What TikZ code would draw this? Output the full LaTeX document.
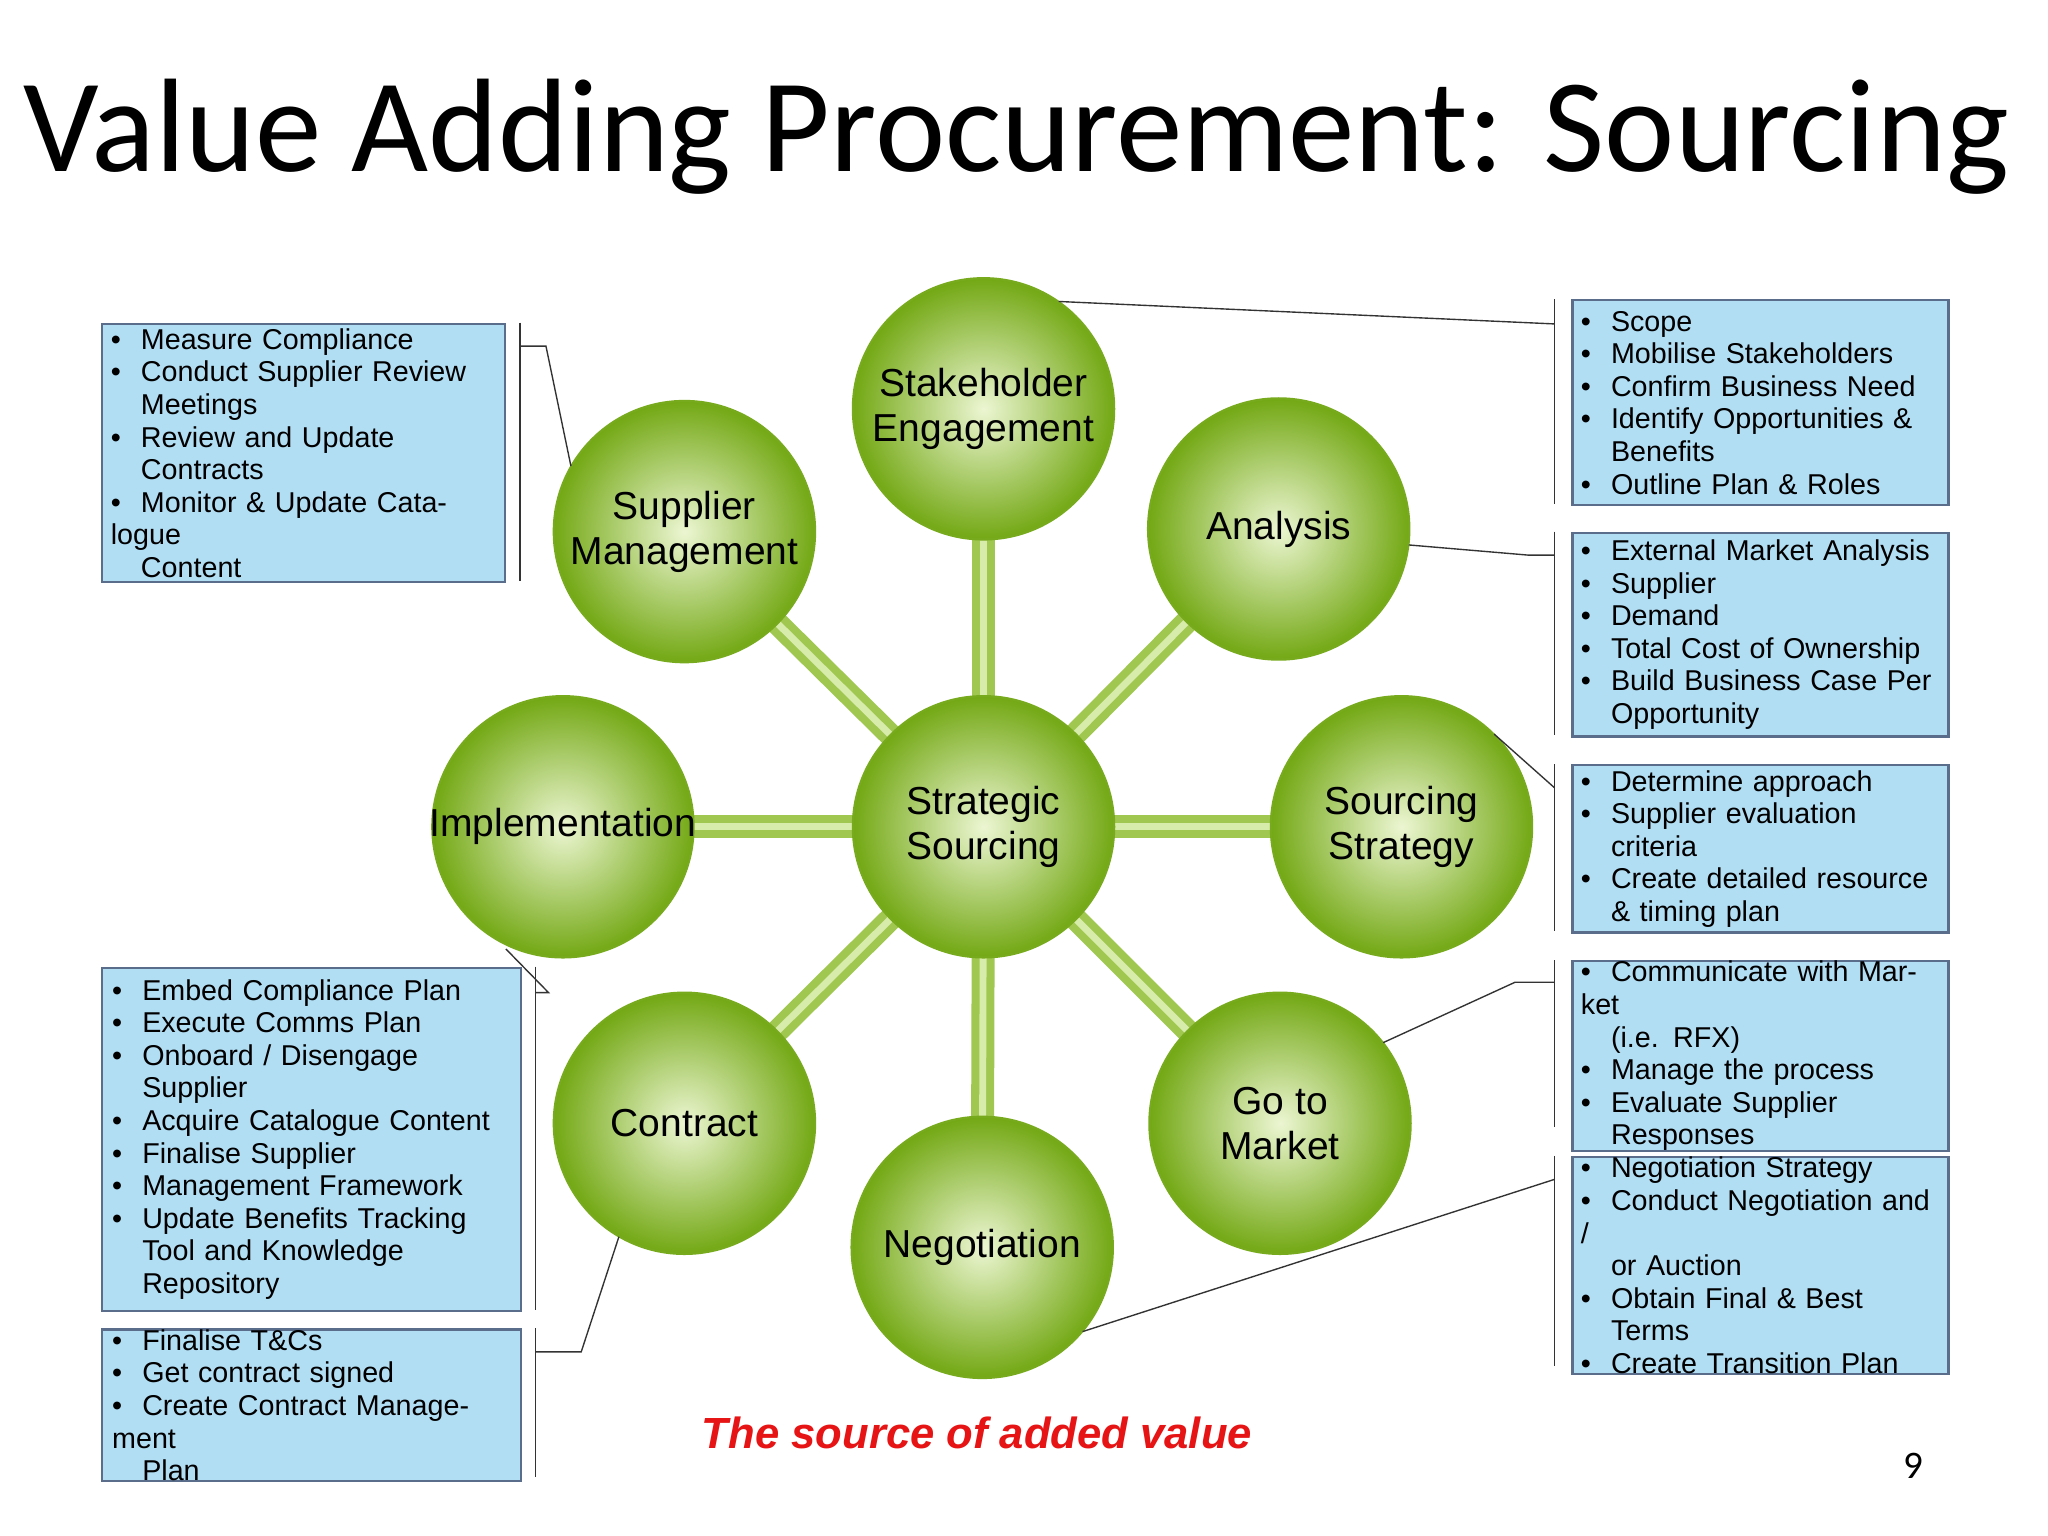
\documentclass[tikz,border=0pt]{standalone}
\usepackage{fontspec}
\setmainfont{Liberation Sans}
\newfontfamily\titlefont{Carlito}
\definecolor{boxblue}{RGB}{178,222,244}
\definecolor{boxedge}{RGB}{90,110,140}
\definecolor{ginner}{RGB}{236,246,210}
\definecolor{gouter}{RGB}{115,168,20}
\definecolor{gedge}{RGB}{120,170,30}
\definecolor{spoke}{RGB}{160,200,80}
\definecolor{spokein}{RGB}{215,235,170}
\definecolor{redtxt}{RGB}{230,20,20}
\newcommand{\bl}[1]{\makebox[1.05em][l]{•}#1}
\newcommand{\ct}[1]{\hspace{1.05em}#1}
\tikzset{
 infobox/.style={draw=boxedge,fill=boxblue,line width=1pt,anchor=north west,align=left,font=\fontsize{12.5}{14.2}\selectfont,inner sep=0pt},
 ball/.style={circle,minimum size=4cm,inner sep=0pt,align=center,font=\fontsize{17}{19.5}\selectfont},
 link/.style={draw=black!80,line width=0.6pt},
 brk/.style={draw=black!80,line width=0.6pt}
}
\begin{document}
\begin{tikzpicture}[x=0.02cm,y=-0.02cm]
\useasboundingbox[fill=white] (0,0) rectangle (1568,1176);
\node[font=\titlefont\fontsize{58}{60}\selectfont,anchor=center] (title) at (778,105) {Value Adding Procurement: Sourcing};
% coordinates
\coordinate (cS) at (753,633);
\foreach \n/\x/\y in {stk/753/313,ana/979/405,sst/1073/633,gtm/980/860,neg/752/955,con/524/860,imp/431/633,sup/524/407}{
 \coordinate (c\n) at (\x,\y);
 \draw[spoke,line width=10pt] (cS) -- (c\n);
 \draw[spokein,line width=3pt] (cS) -- (c\n);
}
\foreach \n in {S,stk,ana,sst,gtm,neg,con,imp,sup}{
 \shade[inner color=ginner,outer color=gouter] (c\n) circle (2cm);
 \draw[gedge,line width=1pt] (c\n) circle (2cm);
}
\node[ball] (nS) at (cS) {Strategic\\Sourcing};
\node[ball] (nstk) at (cstk) {Stakeholder\\Engagement};
\node[ball] (nana) at (cana) {Analysis};
\node[ball] (nsst) at (csst) {Sourcing\\Strategy};
\node[ball] (ngtm) at (cgtm) {Go to\\Market};
\node[ball] (nneg) at (cneg) {Negotiation};
\node[ball] (ncon) at (ccon) {Contract};
\node[ball] (nimp) at (cimp) {Implementation};
\node[ball] (nsup) at (csup) {Supplier\\Management};
% boxes
\node[infobox,minimum width=6.18cm,minimum height=3.96cm,text width=5.9cm] (L1) at (77,247) {\bl{Measure Compliance}\\\bl{Conduct Supplier Review}\\\ct{Meetings}\\\bl{Review and Update}\\\ct{Contracts}\\\bl{Monitor \& Update Catalogue}\\\ct{Content}};
\node[infobox,minimum width=6.42cm,minimum height=5.26cm,text width=6.1cm] (L2) at (77,740) {\bl{Embed Compliance Plan}\\\bl{Execute Comms Plan}\\\bl{Onboard / Disengage}\\\ct{Supplier}\\\bl{Acquire Catalogue Content}\\\bl{Finalise Supplier}\\\bl{Management Framework}\\\bl{Update Benefits Tracking}\\\ct{Tool and Knowledge}\\\ct{Repository}};
\node[infobox,minimum width=6.42cm,minimum height=2.28cm,text width=6.1cm] (L3) at (77,1017) {\bl{Finalise T\&Cs}\\\bl{Get contract signed}\\\bl{Create Contract Management}\\\ct{Plan}};
\node[infobox,minimum width=5.76cm,minimum height=3.14cm,text width=5.5cm] (R1) at (1203,229) {\bl{Scope}\\\bl{Mobilise Stakeholders}\\\bl{Confirm Business Need}\\\bl{Identify Opportunities \&}\\\ct{Benefits}\\\bl{Outline Plan \& Roles}};
\node[infobox,minimum width=5.76cm,minimum height=3.12cm,text width=5.5cm] (R2) at (1203,407) {\bl{External Market Analysis}\\\bl{Supplier}\\\bl{Demand}\\\bl{Total Cost of Ownership}\\\bl{Build Business Case Per}\\\ct{Opportunity}};
\node[infobox,minimum width=5.76cm,minimum height=2.56cm,text width=5.5cm] (R3) at (1203,585) {\bl{Determine approach}\\\bl{Supplier evaluation}\\\ct{criteria}\\\bl{Create detailed resource}\\\ct{\& timing plan}};
\node[infobox,minimum width=5.76cm,minimum height=2.56cm,text width=5.5cm] (R4) at (1203,735) {\bl{Communicate with Market}\\\ct{(i.e. RFX)}\\\bl{Manage the process}\\\bl{Evaluate Supplier}\\\ct{Responses}};
\node[infobox,minimum width=5.76cm,minimum height=3.22cm,text width=5.5cm] (R5) at (1203,885) {\bl{Negotiation Strategy}\\\bl{Conduct Negotiation and /}\\\ct{or Auction}\\\bl{Obtain Final \& Best}\\\ct{Terms}\\\bl{Create Transition Plan}};
% brackets and connectors
\draw[brk] (398,247) -- (398,445);
\draw[link] (398,265) -- (418,265) -- (nsup.150);
\draw[brk] (410,740) -- (410,1003);
\draw[link] (410,760) -- (420,760) -- (nimp.-115);
\draw[brk] (410,1017) -- (410,1131);
\draw[link] (410,1035) -- (445,1035) -- (ncon.-120);
\draw[brk] (1190,229) -- (1190,386);
\draw[link] (1190,248) -- (nstk.55);
\draw[brk] (1190,407) -- (1190,563);
\draw[link] (1190,425) -- (1170,425) -- (nana.-7);
\draw[brk] (1190,585) -- (1190,713);
\draw[link] (1190,603) -- (nsst.45);
\draw[brk] (1190,735) -- (1190,863);
\draw[link] (1190,752) -- (1160,752) -- (ngtm.38);
\draw[brk] (1190,885) -- (1190,1046);
\draw[link] (1190,903) -- (nneg.-40);
\node[font=\bfseries\itshape\fontsize{19}{22}\selectfont,text=redtxt] (tag) at (748,1097) {The source of added value};
\node[font=\titlefont\fontsize{17}{20}\selectfont] (pg) at (1465,1122) {9};
\end{tikzpicture}
\end{document}
